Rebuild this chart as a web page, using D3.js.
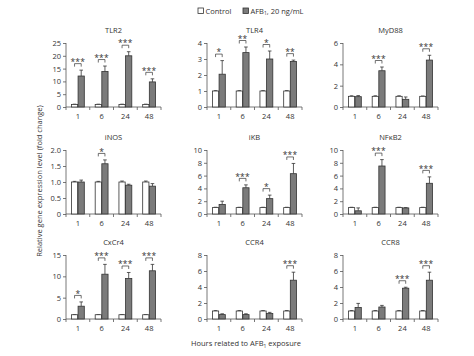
<!DOCTYPE html>
<html>
<head>
<meta charset="utf-8">
<script src="https://cdn.jsdelivr.net/npm/d3@7"></script>
<style>
  html, body { margin: 0; padding: 0; background: #fff; }
  svg { display: block; font-family: "Open Sans", "Noto Sans", sans-serif; }
</style>
</head>
<body>
<svg id="chart" width="474" height="356"></svg>
<script>
// ---------- data ----------
const hours = ["1", "6", "24", "48"];
const genes = ["TLR2", "TLR4", "MyD88", "iNOS", "iKB", "NFκB2", "CxCr4", "CCR4", "CCR8"];
const yMax = [25, 4, 6, 2, 10, 10, 15, 8, 8];
const yStep = [5, 1, 2, 0.5, 2, 2, 5, 2, 2];
const controlMean = [
  [1, 1, 1, 1], [1, 1, 1, 1], [1, 1, 1, 1],
  [1, 1, 1, 1], [1, 1, 1, 1], [1, 1, 1, 1],
  [1, 1, 1, 1], [1, 1, 1, 1], [1, 1, 1, 1]
];
const controlErr = [
  [0.1, 0.1, 0.1, 0.1], [0.02, 0.02, 0.02, 0.02], [0.05, 0.05, 0.05, 0.03],
  [0.02, 0.02, 0.03, 0.03], [0.05, 0.05, 0.05, 0.05], [0.05, 0.05, 0.05, 0.05],
  [0.05, 0.05, 0.05, 0.05], [0.05, 0.05, 0.05, 0.05], [0.05, 0.05, 0.05, 0.05]
];
const afbMean = [
  [12.1, 13.9, 20.0, 9.8],
  [2.05, 3.4, 3.0, 2.85],
  [0.97, 3.4, 0.72, 4.4],
  [1.0, 1.57, 0.9, 0.87],
  [1.5, 4.1, 2.4, 6.3],
  [0.5, 7.5, 0.95, 4.8],
  [3.0, 10.5, 9.5, 11.3],
  [0.55, 0.55, 0.68, 4.85],
  [1.45, 1.5, 3.85, 4.85]
];
const afbErr = [
  [2.3, 2.1, 1.6, 1.2],
  [0.85, 0.35, 0.5, 0.08],
  [0.1, 0.35, 0.22, 0.45],
  [0.06, 0.12, 0.03, 0.08],
  [0.5, 0.45, 0.55, 1.6],
  [0.45, 1.0, 0.05, 1.0],
  [1.0, 2.3, 1.4, 1.5],
  [0.1, 0.1, 0.15, 1.0],
  [0.5, 0.2, 0.12, 1.0]
];
const stars = [
  ["***", "***", "***", "***"],
  ["*", "**", "*", "**"],
  ["", "***", "", "***"],
  ["", "*", "", ""],
  ["", "***", "*", "***"],
  ["", "***", "", "***"],
  ["*", "***", "***", "***"],
  ["", "", "", "***"],
  ["", "", "***", "***"]
];
const legendLabels = ["Control", "AFB", "1", ", 20 ng/mL"];
const xTitle = ["Hours related to AFB", "1", " exposure"];
const yTitle = "Relative gene expression level (fold change)";

// ---------- layout ----------
const colX = [66, 207, 343];
const rowTop = [43, 150, 255];
const pw = 95, ph = 64;
const ink = "#333";
const axisInk = "#555";
const fs = 7.5;

const svg = d3.select("#chart");

genes.forEach((g, i) => {
  const c = i % 3, r = Math.floor(i / 3);
  const x0 = colX[c], top = rowTop[r];
  const gp = svg.append("g");

  const x = d3.scaleBand().domain(hours).range([x0, x0 + pw]);
  const sub = d3.scaleBand().domain(["c", "a"]).range([0, x.bandwidth()])
    .paddingInner(0.06).paddingOuter(0.82);
  const y = d3.scaleLinear().domain([0, yMax[i]]).range([top + ph, top]);

  // y axis
  const ticks = d3.range(0, yMax[i] + yStep[i] / 2, yStep[i]);
  const fmt = yStep[i] < 1 ? (d => d === 0 ? "0" : d3.format(".1f")(d)) : d3.format("d");
  const ya = gp.append("g").attr("transform", `translate(${x0},0)`)
    .call(d3.axisLeft(y).tickValues(ticks).tickFormat(fmt).tickSize(3).tickPadding(2));
  ya.select(".domain").attr("d", `M0,${top + ph}V${top}`).attr("stroke", axisInk).attr("stroke-width", 0.8);
  ya.selectAll(".tick line").attr("stroke", axisInk).attr("stroke-width", 0.8);
  ya.selectAll(".tick text").attr("fill", ink).style("font-size", fs + "px").style("font-family", "Open Sans");

  // x axis
  const xa = gp.append("g").attr("transform", `translate(0,${top + ph})`)
    .call(d3.axisBottom(x).tickSize(0).tickPadding(7));
  xa.select(".domain").attr("d", `M${x0},0H${x0 + pw}`).attr("stroke", axisInk).attr("stroke-width", 0.8);
  xa.selectAll(".tick text").attr("fill", ink).style("font-size", fs + "px").style("font-family", "Open Sans");
  // tick marks at band boundaries
  const bounds = hours.map(h => x(h)).concat([x0 + pw]);
  xa.selectAll("line.bt").data(bounds).enter().append("line")
    .attr("x1", d => d).attr("x2", d => d).attr("y1", 0).attr("y2", 3)
    .attr("stroke", axisInk).attr("stroke-width", 0.8);

  // title
  gp.append("text").attr("x", x0 + pw / 2).attr("y", top - 10)
    .attr("text-anchor", "middle").attr("fill", ink).style("font-size", fs + "px").text(g);

  // bars
  hours.forEach((h, j) => {
    const bx = x(h);
    const items = [
      { k: "c", m: controlMean[i][j], e: controlErr[i][j], fill: "#fff" },
      { k: "a", m: afbMean[i][j], e: afbErr[i][j], fill: "#7b7b7b" }
    ];
    items.forEach(it => {
      const lx = bx + sub(it.k), w = sub.bandwidth();
      const cx = lx + w / 2;
      // error bar (upper only)
      gp.append("line").attr("x1", cx).attr("x2", cx)
        .attr("y1", y(it.m)).attr("y2", y(it.m + it.e))
        .attr("stroke", ink).attr("stroke-width", 0.8);
      gp.append("line").attr("x1", cx - 1.8).attr("x2", cx + 1.8)
        .attr("y1", y(it.m + it.e)).attr("y2", y(it.m + it.e))
        .attr("stroke", ink).attr("stroke-width", 0.8);
      gp.append("rect").attr("x", lx).attr("y", y(it.m))
        .attr("width", w).attr("height", y(0) - y(it.m))
        .attr("fill", it.fill).attr("stroke", ink).attr("stroke-width", 0.8);
    });
    // significance
    if (stars[i][j]) {
      const topVal = Math.max(controlMean[i][j] + controlErr[i][j], afbMean[i][j] + afbErr[i][j]);
      const by = y(topVal) - 6.5;
      const c1 = bx + sub("c") + sub.bandwidth() / 2;
      const c2 = bx + sub("a") + sub.bandwidth() / 2;
      gp.append("path").attr("d", `M${c1},${by + 3}V${by}H${c2}V${by + 3}`)
        .attr("fill", "none").attr("stroke", ink).attr("stroke-width", 0.7);
      gp.append("text").attr("x", (c1 + c2) / 2).attr("y", by + 1.2)
        .attr("text-anchor", "middle").attr("fill", ink)
        .style("font-size", "8.5px").style("letter-spacing", "0.3px").text(stars[i][j]);
    }
  });
});

// legend
const lg = svg.append("g");
lg.append("rect").attr("x", 198).attr("y", 8).attr("width", 5.5).attr("height", 5.5)
  .attr("fill", "#fff").attr("stroke", ink).attr("stroke-width", 0.8);
lg.append("text").attr("x", 205.5).attr("y", 13.7).attr("fill", ink).style("font-size", fs + "px").text(legendLabels[0]);
lg.append("rect").attr("x", 243).attr("y", 8).attr("width", 5.5).attr("height", 5.5)
  .attr("fill", "#7b7b7b").attr("stroke", ink).attr("stroke-width", 0.8);
const lt = lg.append("text").attr("x", 250.5).attr("y", 13.7).attr("fill", ink).style("font-size", fs + "px");
lt.append("tspan").text(legendLabels[1]);
lt.append("tspan").attr("dy", 1.5).style("font-size", "5px").text(legendLabels[2]);
lt.append("tspan").attr("dy", -1.5).text(legendLabels[3]);

// x title
const xt = svg.append("text").attr("x", 246).attr("y", 346).attr("text-anchor", "middle")
  .attr("fill", ink).style("font-size", fs + "px");
xt.append("tspan").text(xTitle[0]);
xt.append("tspan").attr("dy", 1.5).style("font-size", "5px").text(xTitle[1]);
xt.append("tspan").attr("dy", -1.5).text(xTitle[2]);

// y title
svg.append("text").attr("transform", "translate(42,181) rotate(-90)")
  .attr("text-anchor", "middle").attr("fill", ink).style("font-size", fs + "px").text(yTitle);
</script>
</body>
</html>
